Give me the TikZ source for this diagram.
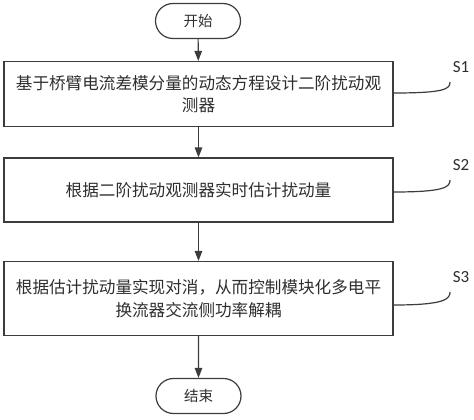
\documentclass[tikz,border=0pt]{standalone}
\usepackage{fontspec}
\setmainfont{Noto Sans CJK SC}
\newfontfamily\labfont{Carlito}
\usetikzlibrary{arrows.meta,shapes.misc}
\definecolor{linec}{HTML}{3C3C3C}
\definecolor{textc}{HTML}{2E2E2E}
\begin{document}
\begin{tikzpicture}[x=1pt,y=-1pt,
  every node/.style={text=textc},
  term/.style={draw=linec,line width=1.2pt,rounded rectangle,minimum width=85pt,minimum height=35pt,inner sep=0pt,font=\fontsize{14.5}{18}\selectfont},
  stepbox/.style={draw=linec,line width=1.2pt,rectangle,minimum width=389pt,inner sep=0pt,align=center,font=\fontsize{16.6}{22.5}\selectfont},
  flow/.style={draw=linec,line width=1.2pt,-{Triangle[width=7.5pt,length=10pt]}},
  lead/.style={draw=linec,line width=1.2pt},
  lab/.style={font=\labfont\fontsize{17}{20}\selectfont,inner sep=0pt}]
\useasboundingbox (0,0) rectangle (474,420);
\node[term] (start) at (198,21) {开始};
\node[stepbox,minimum height=65pt] (b1) at (198.5,94) {基于桥臂电流差模分量的动态方程设计二阶扰动观\\测器};
\node[stepbox,minimum height=64pt] (b2) at (198.5,190) {根据二阶扰动观测器实时估计扰动量};
\node[stepbox,minimum height=74pt] (b3) at (198.5,298.5) {根据估计扰动量实现对消，从而控制模块化多电平\\换流器交流侧功率解耦};
\node[term] (end) at (198.5,396) {结束};
\draw[flow] (start) -- (b1);
\draw[flow] (b1) -- (b2);
\draw[flow] (b2) -- (b3);
\draw[flow] (b3) -- (end);
\coordinate (c1) at (450,82);
\coordinate (c2) at (450,180);
\coordinate (c3) at (450,292);
\draw[lead] ([yshift=1pt]b1.east) .. controls (445,93) and (450,89) .. (c1);
\draw[lead] ([yshift=-2pt]b2.east) .. controls (445,192) and (450,187) .. (c2);
\draw[lead] ([yshift=-6.5pt]b3.east) .. controls (445,305) and (450,299) .. (c3);
\node[lab] (s1) at (461,67) {S1};
\node[lab] (s2) at (461,165) {S2};
\node[lab] (s3) at (461,277) {S3};
\end{tikzpicture}
\end{document}
